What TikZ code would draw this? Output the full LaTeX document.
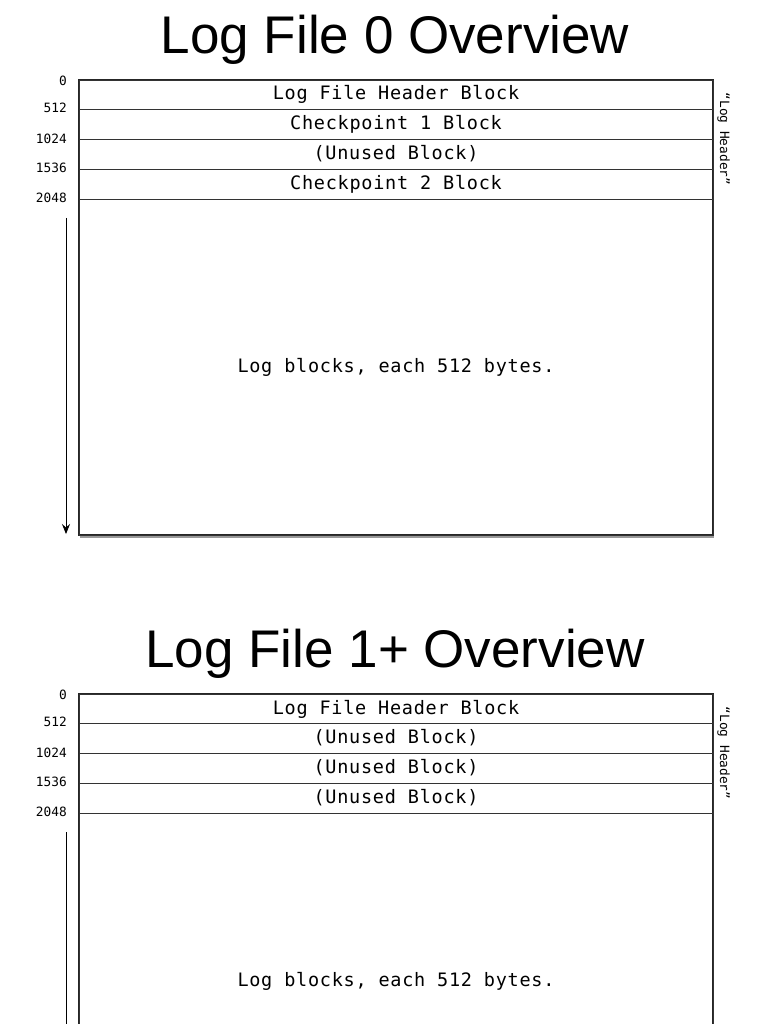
\documentclass[tikz,border=0pt]{standalone}
\usepackage{fontspec}
\setmainfont{Liberation Sans}
\newfontfamily\blockfont[LetterSpace=4]{DejaVu Sans Mono}
\newfontfamily\labelfont{DejaVu Sans Mono}
\usetikzlibrary{shadows,arrows.meta}
\tikzset{
  title/.style={font=\fontsize{53}{60}\selectfont, anchor=base, inner sep=0pt},
  blockrow/.style={draw=black!80, line width=0.9pt, minimum width=634pt, minimum height=29.75pt,
    inner sep=0pt, text height=14pt, text depth=3.75pt, font=\blockfont\fontsize{18.5}{21}\selectfont},
  bigblock/.style={blockrow, minimum height=336pt},
  frame/.style={draw=black!85, line width=1.1pt, fill=white,
    drop shadow={shadow xshift=1pt, shadow yshift=-3pt, opacity=0.8}},
  offs/.style={anchor=east, inner sep=0pt, font=\labelfont\fontsize{12.8}{14}\selectfont},
  hdrlabel/.style={rotate=-90, inner sep=0pt, font=\labelfont\fontsize{12.8}{14}\selectfont},
  flow/.style={line width=0.8pt, -{Stealth[length=10pt,width=8pt,inset=3.5pt]}}
}
\begin{document}
\begin{tikzpicture}[x=1pt,y=-1pt]
\useasboundingbox (0,0) rectangle (768,1024);
\clip (0,0) rectangle (768,1024);
\fill[white] (0,0) rectangle (768,1024);

% ---------- Log File 0 ----------
\node[title] (t0) at (395,53.5) {Log File 0 Overview};
\path[frame] (79,80) rectangle (713,535);
\node[blockrow] (a1) at (396,94.875) {Log File Header Block};
\node[blockrow] (a2) at (396,124.625) {Checkpoint 1 Block};
\node[blockrow] (a3) at (396,154.375) {(Unused Block)};
\node[blockrow] (a4) at (396,184.125) {Checkpoint 2 Block};
\node[bigblock] (a5) at (396,367) {Log blocks, each 512 bytes.};
\node[offs] (ao0) at (67,81) {0};
\node[offs] (ao1) at (67,107.5) {512};
\node[offs] (ao2) at (67,139) {1024};
\node[offs] (ao3) at (67,168) {1536};
\node[offs] (ao4) at (67,197.5) {2048};
\node[hdrlabel] (ah) at (723.5,139) {“Log Header”};
\coordinate (as) at (66,218);
\coordinate (ae) at (66,534);
\draw[flow] (as) -- (ae);

% ---------- Log File 1+ ----------
\begin{scope}[yshift=-614pt]
\node[title] (t1) at (395,53.5) {Log File 1+ Overview};
\path[frame] (79,80) rectangle (713,535);
\node[blockrow] (b1) at (396,94.875) {Log File Header Block};
\node[blockrow] (b2) at (396,124.625) {(Unused Block)};
\node[blockrow] (b3) at (396,154.375) {(Unused Block)};
\node[blockrow] (b4) at (396,184.125) {(Unused Block)};
\node[bigblock] (b5) at (396,367) {Log blocks, each 512 bytes.};
\node[offs] (bo0) at (67,81) {0};
\node[offs] (bo1) at (67,107.5) {512};
\node[offs] (bo2) at (67,139) {1024};
\node[offs] (bo3) at (67,168) {1536};
\node[offs] (bo4) at (67,197.5) {2048};
\node[hdrlabel] (bh) at (723.5,139) {“Log Header”};
\coordinate (bs) at (66,218);
\coordinate (be) at (66,534);
\draw[flow] (bs) -- (be);
\end{scope}
\end{tikzpicture}
\end{document}
